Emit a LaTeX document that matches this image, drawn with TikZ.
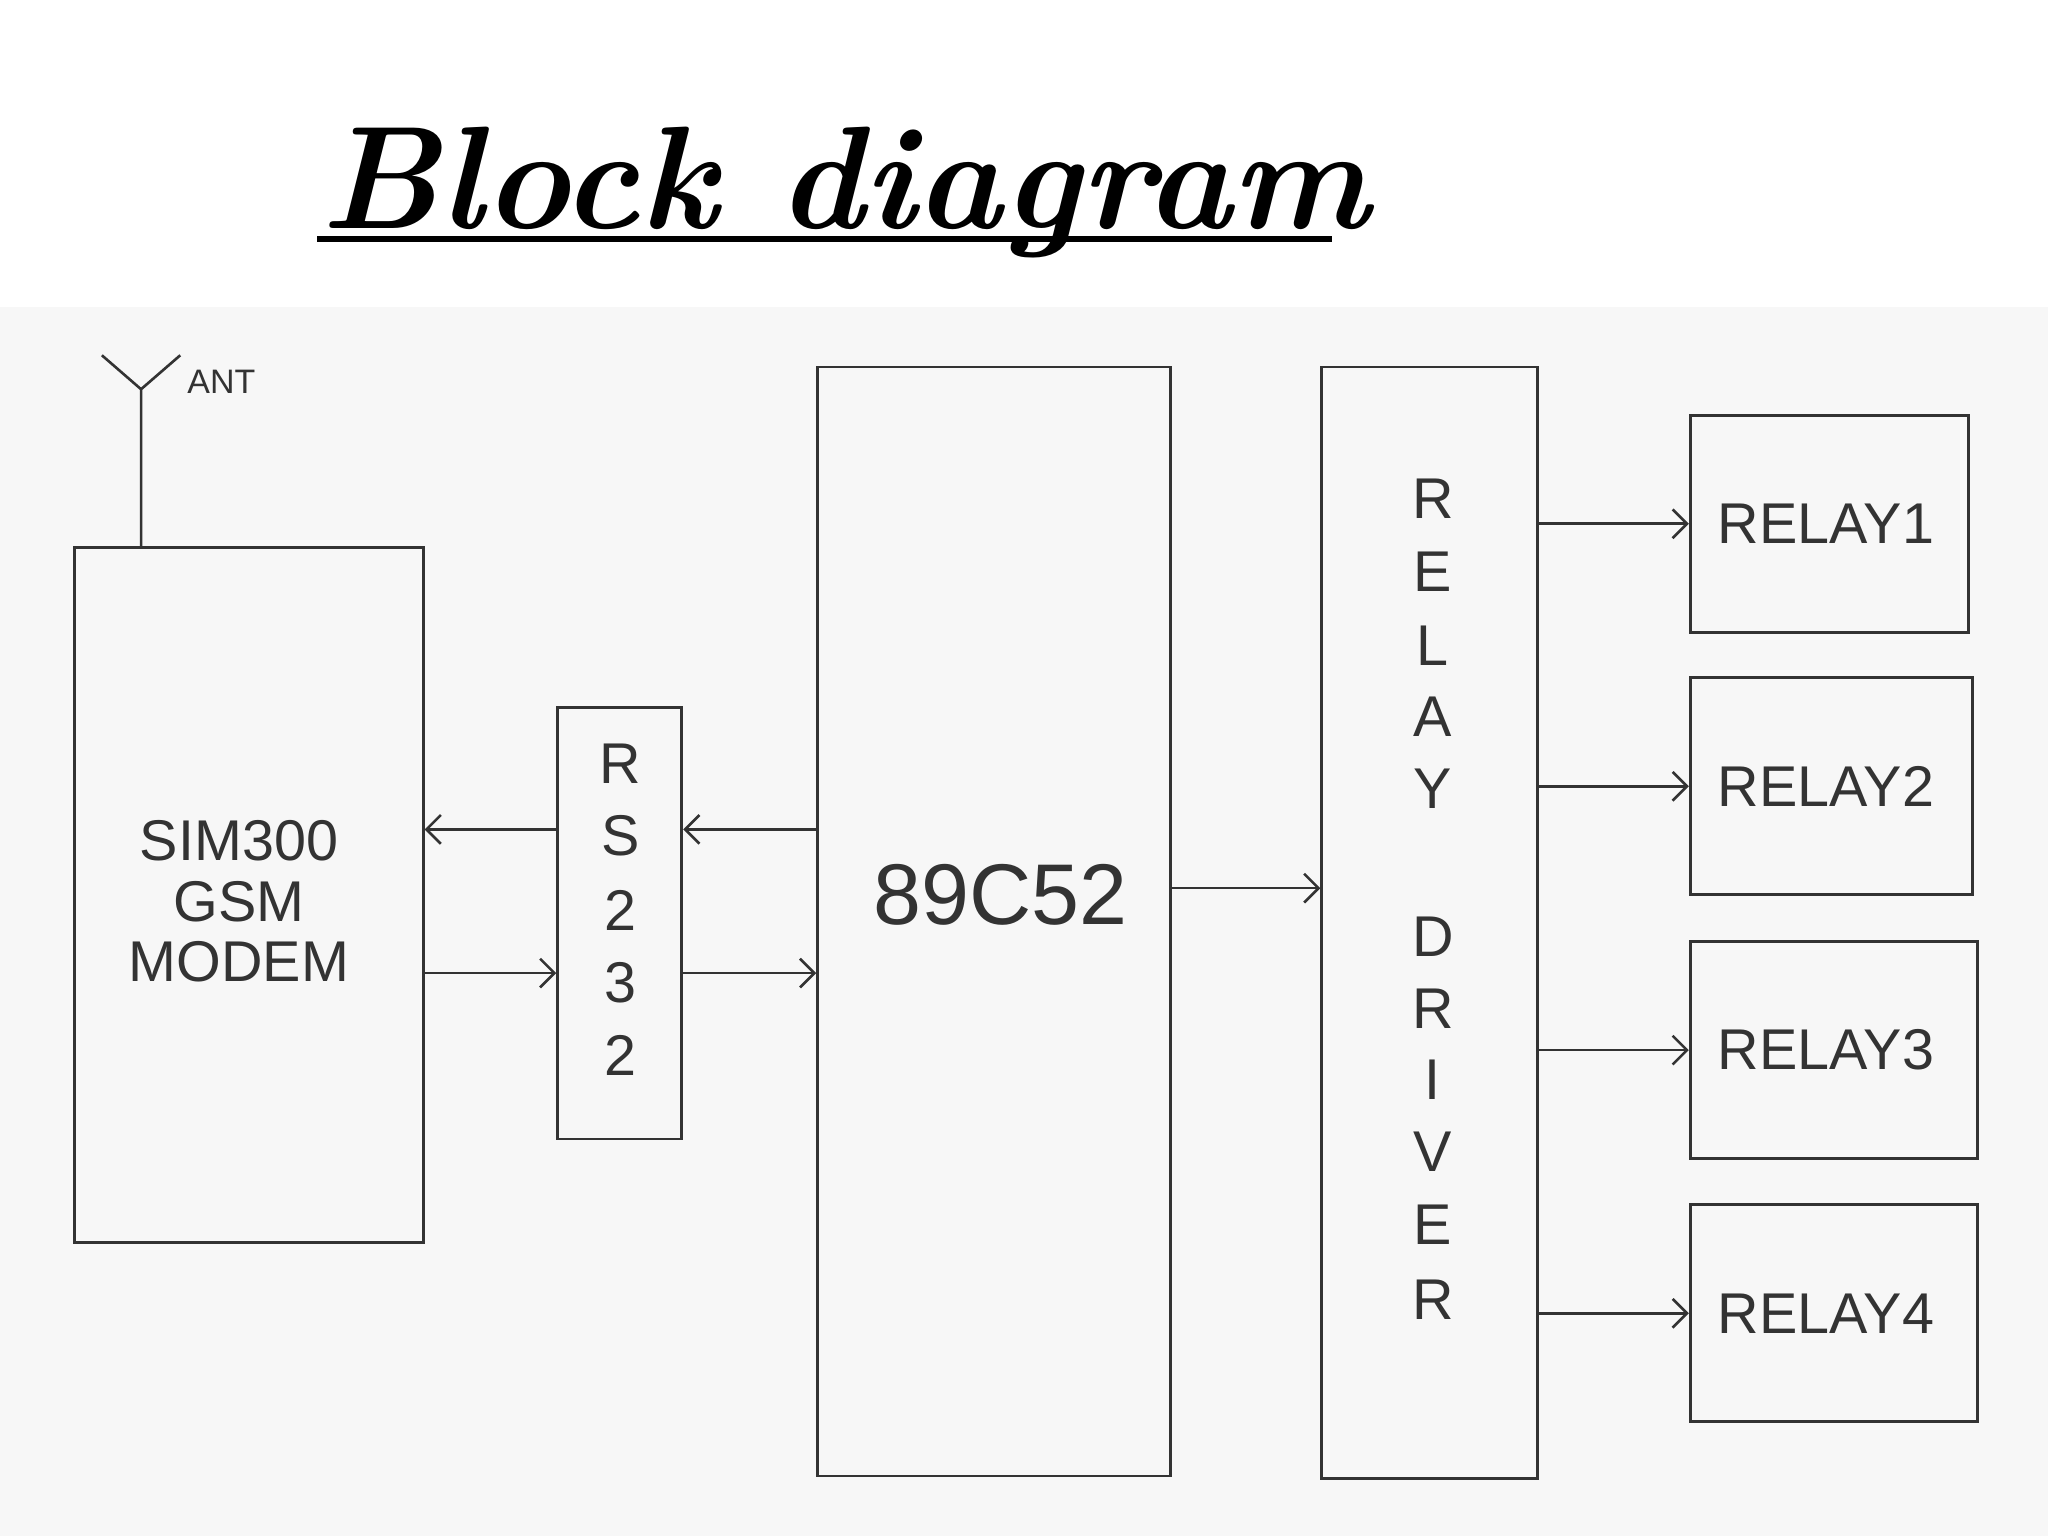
\documentclass[tikz,border=0pt]{standalone}
\usepackage{fontspec}
\setmainfont{Liberation Sans}
\usetikzlibrary{arrows.meta}
\definecolor{ink}{HTML}{333333}
\begin{document}
\begin{tikzpicture}[x=1pt,y=-1pt,
  box/.style={draw=ink,line width=2.2pt,inner sep=0pt,text=ink},
  arr/.style={draw=ink,line width=2pt,-{Straight Barb[length=11pt,width=22pt,line width=2pt]}},
  lbl/.style={text=ink,font=\fontsize{44}{50}\selectfont,align=center},
  vl/.style={text=ink,font=\fontsize{44}{50}\selectfont}]
\useasboundingbox (0,0) rectangle (1568,1176);
\fill[white] (0,0) rectangle (1568,1176);
\fill[black!3] (0,235) rectangle (1568,1176);
% title
\node[anchor=base west,inner sep=0pt,font=\fontsize{112}{120}\selectfont\rmfamily] (title) at (245,175)
  {\fontspec{Latin Modern Roman}\bfseries\itshape Block diagram};
\draw[line width=4pt] (243,183) -- (1020,183);
% antenna
\coordinate (antb) at (108,419);
\coordinate (antt) at (108,298);
\coordinate (al) at (78,272);
\coordinate (ar) at (138,272);
\draw[ink,line width=2pt] (antb) -- (antt) -- (al) (antt) -- (ar);
\node[text=ink,font=\fontsize{26}{30}\selectfont,anchor=west] (ant) at (140,292) {ANT};
% boxes
\node[box,minimum width=267pt,minimum height=532pt] (sim) at (190.5,685) {};
\node[lbl] at (183,690) {SIM300\\[-4pt]GSM\\[-4pt]MODEM};
\node[box,minimum width=95pt,minimum height=330pt] (rs) at (474.5,707) {};
\foreach \c/\y in {R/585,S/640,2/697,3/752,2/808} \node[vl] at (475,\y) {\c};
\node[box,minimum width=270pt,minimum height=849pt] (mcu) at (761,705.5) {};
\node[text=ink,font=\fontsize{66}{70}\selectfont] at (766,685) {89C52};
\node[box,minimum width=165pt,minimum height=851pt] (drv) at (1094.5,706.5) {};
\foreach \c/\y in {R/382,E/438,L/494,A/549,Y/604,D/717,R/772,I/827,V/882,E/938,R/995} \node[vl] at (1097,\y) {\c};
\foreach \i/\yc/\w in {1/401/213,2/602/216,3/804/220,4/1005.5/220}{
  \node[box,minimum width=\w pt,minimum height=166pt,anchor=west] (r\i) at (1293,\yc) {};
  \node[lbl] at (1398,\yc) {RELAY\i};
  \draw[arr] (drv.east |- r\i.west) -- (r\i.west);
}
% arrows
\draw[arr] (mcu.west |- 0,635) -- (rs.east |- 0,635);
\draw[arr] (rs.west |- 0,635) -- (sim.east |- 0,635);
\draw[arr] (sim.east |- 0,745) -- (rs.west |- 0,745);
\draw[arr] (rs.east |- 0,745) -- (mcu.west |- 0,745);
\draw[arr] (mcu.east |- 0,680) -- (drv.west |- 0,680);
\end{tikzpicture}
\end{document}
